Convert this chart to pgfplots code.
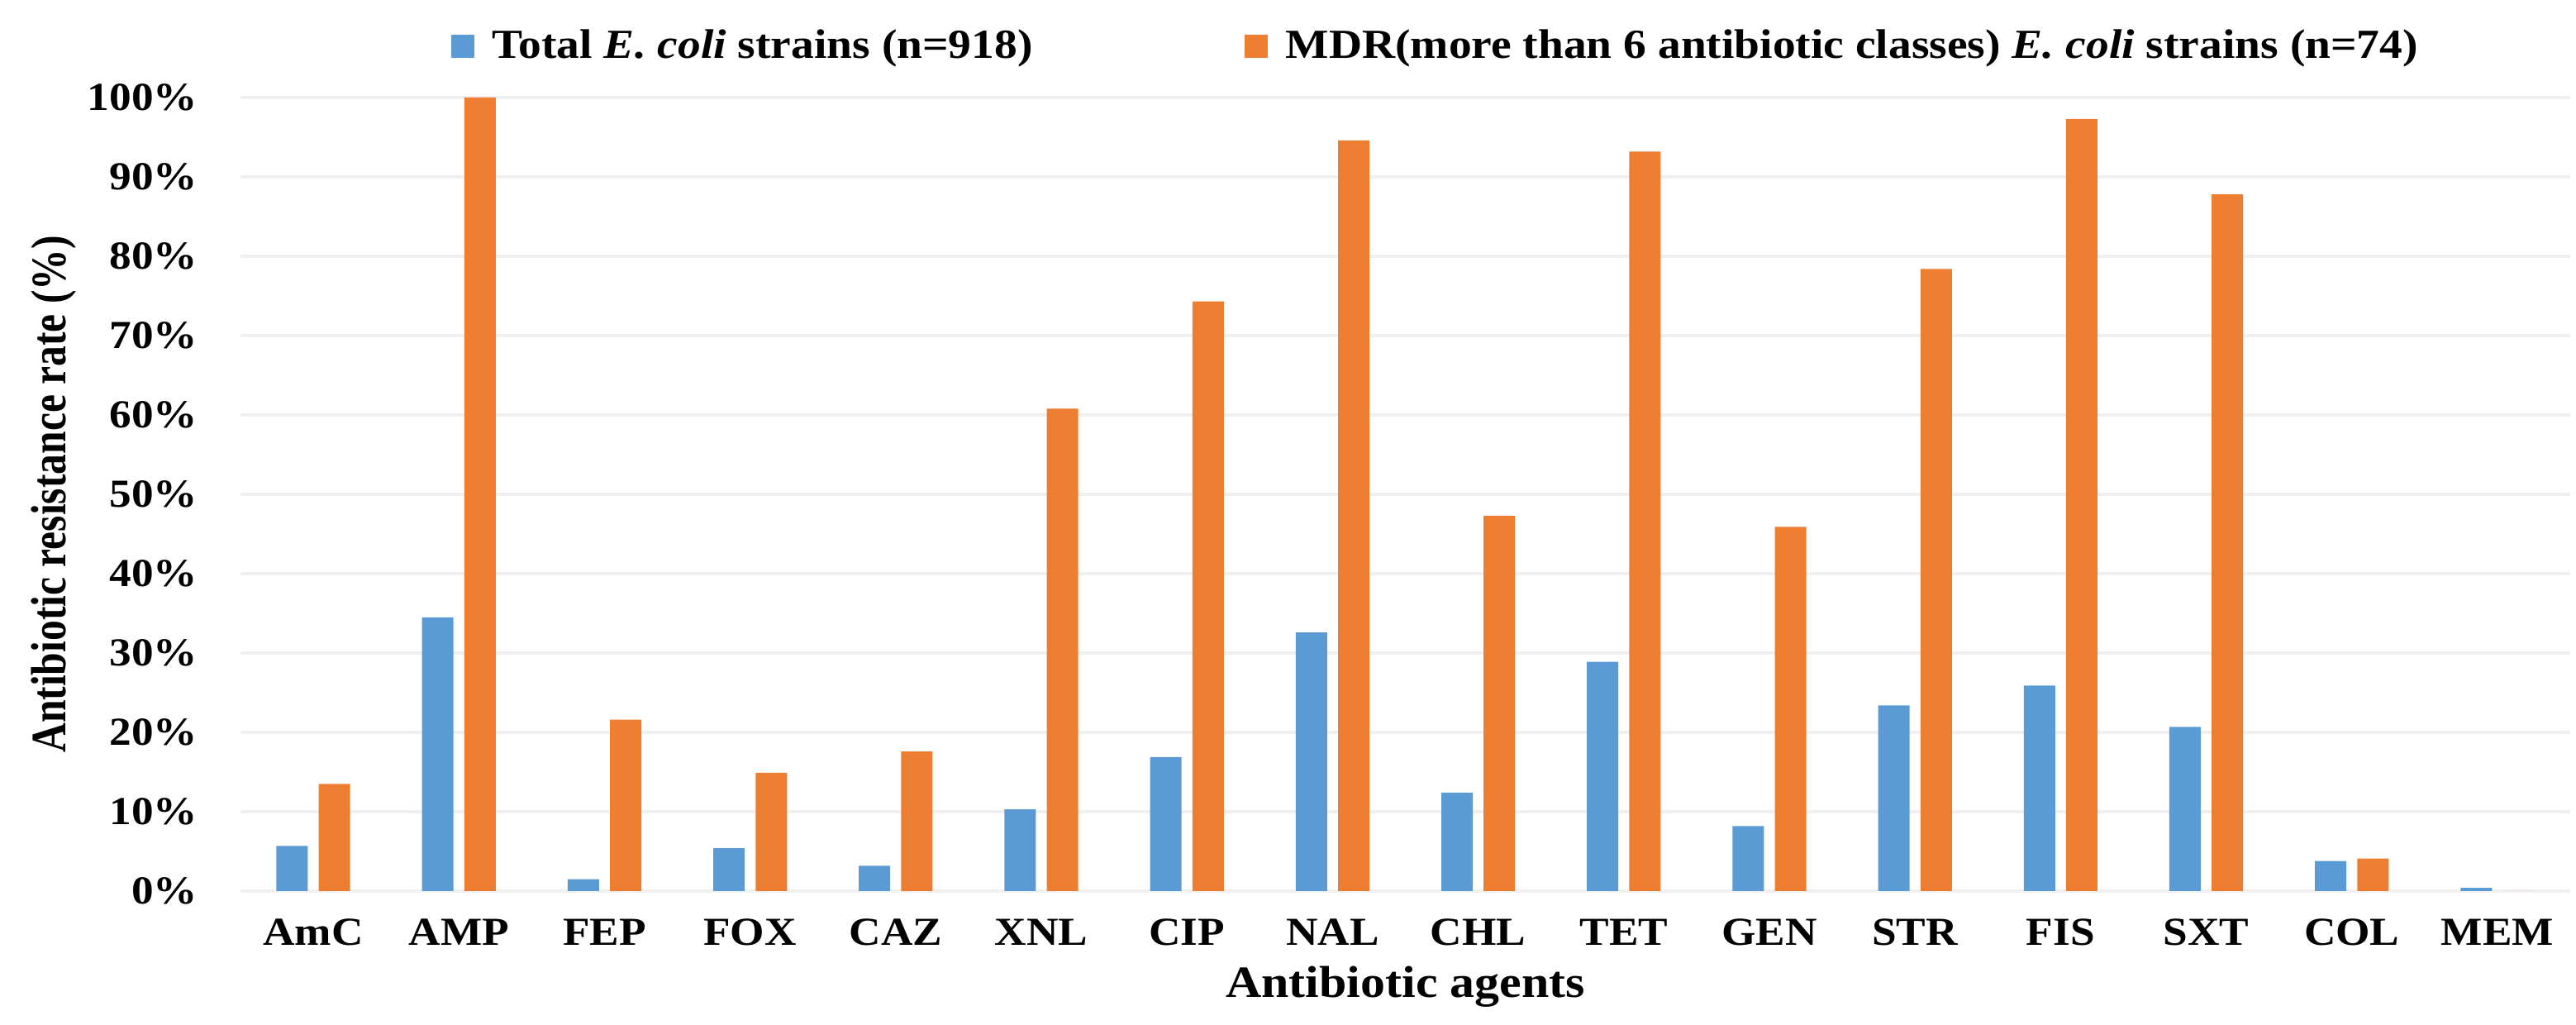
\documentclass[border=0pt]{standalone}
\usepackage{fontspec}
\setmainfont{Liberation Serif}[FakeStretch=1.11]
\usepackage{pgfplots}
\usepackage{graphicx}
\pgfplotsset{compat=1.18}
\definecolor{cblue}{HTML}{5B9BD5}
\definecolor{corange}{HTML}{ED7D31}
\pgfplotstableread{
idx total mdr
0 5.7 13.5
1 34.5 100
2 1.5 21.6
3 5.4 14.9
4 3.2 17.6
5 10.3 60.8
6 16.9 74.3
7 32.6 94.6
8 12.4 47.3
9 28.9 93.2
10 8.2 45.9
11 23.4 78.4
12 25.9 97.3
13 20.7 87.8
14 3.8 4.1
15 0.4 0
}\datatable
\begin{document}
\begin{tikzpicture}
\begin{axis}[
  name=ax,
  scale only axis, width=704.75pt, height=240pt,
  ymin=0, ymax=100, xmin=-0.5, xmax=15.5,
  ybar, bar width=9.5pt,
  axis line style={draw=none},
  major tick length=0pt,
  ymajorgrids, grid style={line width=0.8pt, color=black!6},
  ytick={0,10,20,30,40,50,60,70,80,90,100},
  yticklabels={0\%,10\%,20\%,30\%,40\%,50\%,60\%,70\%,80\%,90\%,100\%},
  xtick={0,1,2,3,4,5,6,7,8,9,10,11,12,13,14,15},
  xticklabels={AmC,AMP,FEP,FOX,CAZ,XNL,CIP,NAL,CHL,TET,GEN,STR,FIS,SXT,COL,MEM},
  tick label style={font=\bfseries\fontsize{12}{14}\selectfont},
  xticklabel style={anchor=north, inner sep=0pt, yshift=-8.25pt},
  yticklabel style={anchor=east, inner sep=0pt, xshift=-12.75pt},
  xlabel={Antibiotic agents},
  xlabel style={font=\bfseries\fontsize{13.5}{15}\selectfont, at={(axis description cs:0.5,0)}, anchor=north, inner sep=0pt, yshift=-22.5pt},
  ylabel={\scalebox{0.893}[1.2]{Antibiotic resistance rate (\%)}},
  ylabel style={font=\bfseries\fontsize{12.5}{15}\selectfont, at={(axis description cs:0,0.5)}, anchor=center, inner sep=0pt, yshift=56.5pt},
  legend style={font=\bfseries\fontsize{12.5}{15}\selectfont, draw=none, fill=none,
    legend columns=2, at={(axis description cs:0.0901,1.0646)}, anchor=west, inner sep=0pt,
    nodes={inner sep=0pt},
    /tikz/every odd column/.append style={column sep=5.5pt},
    /tikz/every even column/.append style={column sep=64pt}},
]
\addplot[fill=cblue, draw=none, bar shift=-6.4pt,
  legend image code/.code={\fill[cblue] (0pt,-3.5pt) rectangle (7pt,3.5pt);}]
  table[x=idx, y=total] {\datatable};
\addlegendentry{Total \textit{E. coli} strains (n=918)}
\addplot[fill=corange, draw=none, bar shift=6.4pt,
  legend image code/.code={\fill[corange] (0pt,-3.5pt) rectangle (7pt,3.5pt);}]
  table[x=idx, y=mdr] {\datatable};
\addlegendentry{MDR(more than 6 antibiotic classes) \textit{E. coli} strains (n=74)}
\end{axis}
\pgfresetboundingbox
\path[use as bounding box] ([shift={(-72.75pt,-40.5pt)}]ax.south west) rectangle ([shift={(1.75pt,29.5pt)}]ax.north east);
\end{tikzpicture}
\end{document}
